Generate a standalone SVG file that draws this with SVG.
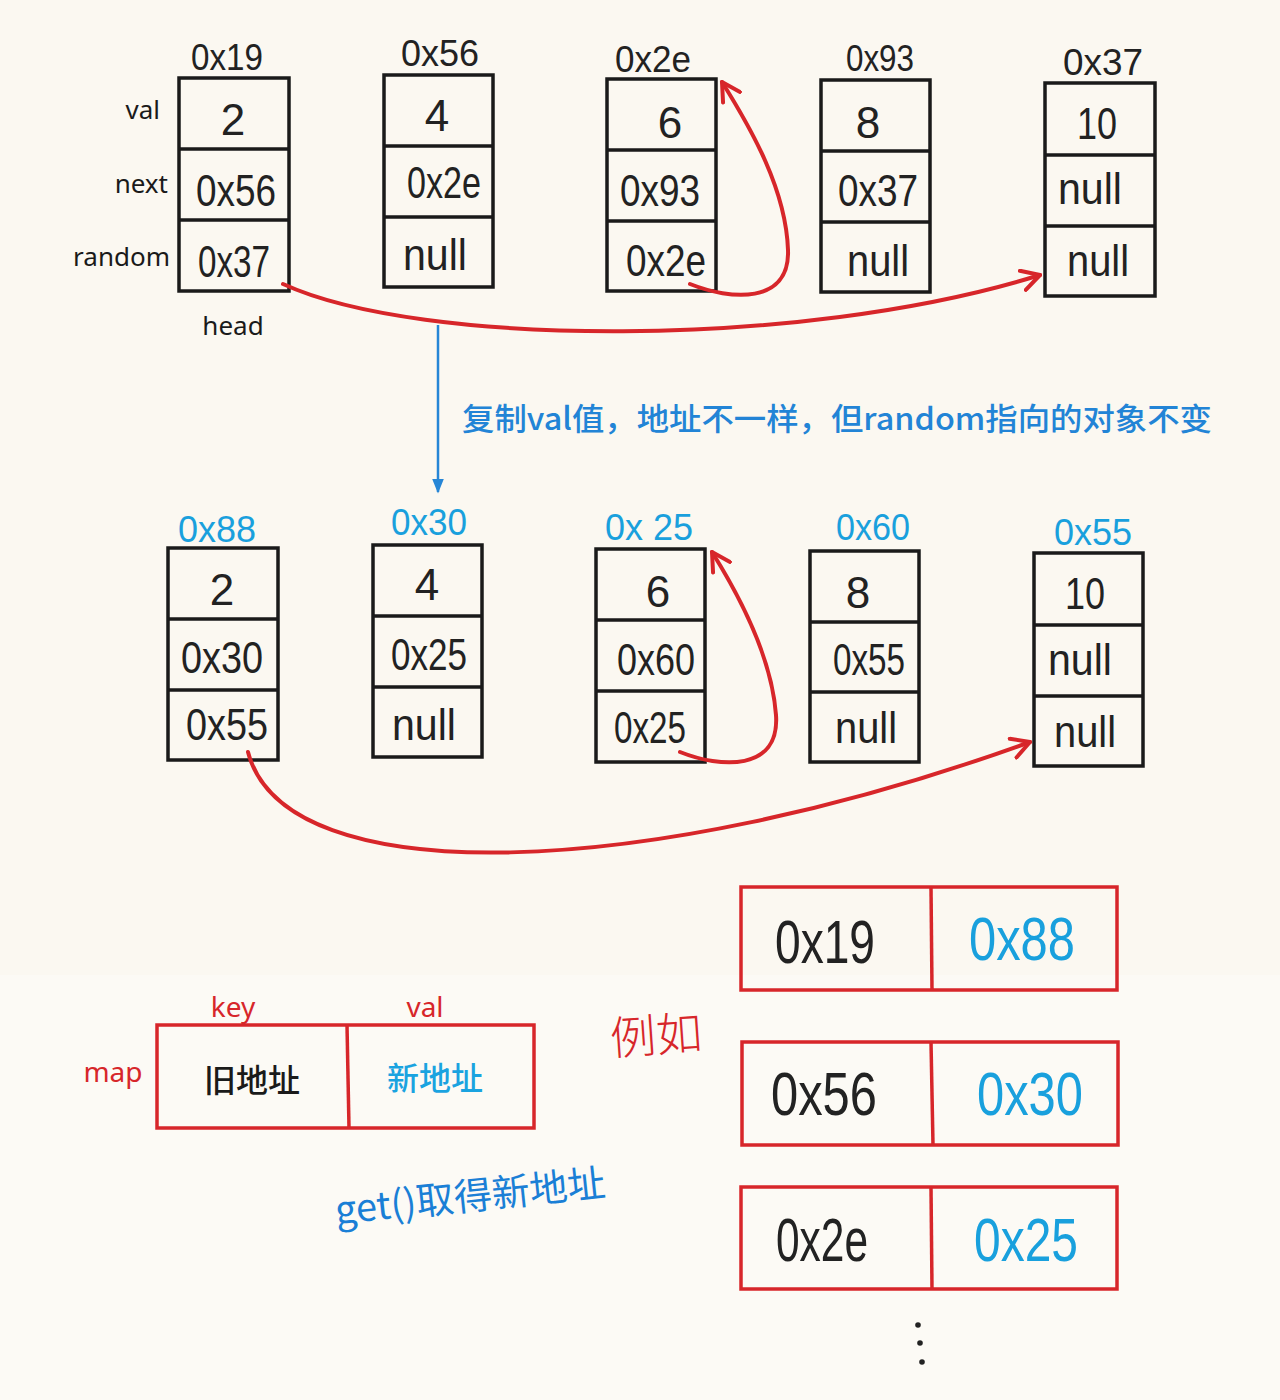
<svg xmlns="http://www.w3.org/2000/svg" width="1280" height="1400" viewBox="0 0 1280 1400">
<defs>
<style>
.box{fill:none;stroke:#1a1a1a;stroke-width:3.5}
.div{stroke:#1a1a1a;stroke-width:3.5}
.hw{font-family:"Liberation Sans Narrow","Liberation Sans",sans-serif;fill:#222;text-anchor:middle}
.val{font-size:44px}
.addr{font-size:36px}
.blueaddr{fill:#19a0dd}
.lbl{font-family:"Noto Sans","Liberation Sans",sans-serif;font-size:26px;fill:#1a1a1a}
.red{fill:none;stroke:#d7262a;stroke-width:4;stroke-linecap:round}
.mapbox{fill:none;stroke:#d7262a;stroke-width:3.5}
.redtxt{font-family:"Noto Sans","Liberation Sans",sans-serif;font-size:28px;fill:#d7262a}
.cjk{font-family:"Noto Sans CJK SC","Noto Sans",sans-serif}
</style>
<marker id="ra" viewBox="0 0 12 12" refX="10" refY="6" markerWidth="6" markerHeight="6" orient="auto" markerUnits="strokeWidth">
<path d="M1,1 L10,6 L1,11" fill="none" stroke="#d7262a" stroke-width="2" stroke-linecap="round" stroke-linejoin="round"/>
</marker>
<marker id="ba" viewBox="0 0 10 10" refX="9" refY="5" markerWidth="6" markerHeight="6" orient="auto" markerUnits="strokeWidth">
<path d="M0,1 L10,5 L0,9 Z" fill="#2686d6"/>
</marker>
</defs>
<rect x="0" y="0" width="1280" height="1400" fill="#fbf8f1"/>
<rect x="0" y="975" width="1280" height="425" fill="#fcfaf5"/>

<!-- row labels -->
<g id="labels">
<text class="lbl" x="160" y="119" text-anchor="end">val</text>
<text class="lbl" x="168" y="193" text-anchor="end">next</text>
<text class="lbl" x="170" y="266" text-anchor="end">random</text>
<text class="lbl" x="233" y="335" text-anchor="middle">head</text>
</g>

<!-- top row -->
<g id="n0x19">
<rect class="box" x="179" y="78" width="110" height="213"/>
<line class="div" x1="179" y1="149" x2="289" y2="149"/>
<line class="div" x1="179" y1="220" x2="289" y2="220"/>
<text class="hw addr" x="227" y="70" textLength="72" lengthAdjust="spacingAndGlyphs">0x19</text>
<text class="hw val" x="233" y="135">2</text>
<text class="hw val" x="236" y="206" textLength="80" lengthAdjust="spacingAndGlyphs">0x56</text>
<text class="hw val" x="234" y="277" textLength="72" lengthAdjust="spacingAndGlyphs">0x37</text>
</g>
<g id="n0x56">
<rect class="box" x="384" y="75" width="109" height="212"/>
<line class="div" x1="384" y1="146" x2="493" y2="146"/>
<line class="div" x1="384" y1="217" x2="493" y2="217"/>
<text class="hw addr" x="440" y="66" textLength="78" lengthAdjust="spacingAndGlyphs">0x56</text>
<text class="hw val" x="437" y="131">4</text>
<text class="hw val" x="444" y="198" textLength="74" lengthAdjust="spacingAndGlyphs">0x2e</text>
<text class="hw val" x="435" y="270" textLength="64" lengthAdjust="spacingAndGlyphs">null</text>
</g>
<g id="n0x2e">
<rect class="box" x="607" y="79" width="109" height="212"/>
<line class="div" x1="607" y1="150" x2="716" y2="150"/>
<line class="div" x1="607" y1="221" x2="716" y2="221"/>
<text class="hw addr" x="653" y="72" textLength="76" lengthAdjust="spacingAndGlyphs">0x2e</text>
<text class="hw val" x="670" y="138">6</text>
<text class="hw val" x="660" y="206" textLength="80" lengthAdjust="spacingAndGlyphs">0x93</text>
<text class="hw val" x="666" y="276" textLength="80" lengthAdjust="spacingAndGlyphs">0x2e</text>
</g>
<g id="n0x93">
<rect class="box" x="821" y="80" width="109" height="212"/>
<line class="div" x1="821" y1="151" x2="930" y2="151"/>
<line class="div" x1="821" y1="222" x2="930" y2="222"/>
<text class="hw addr" x="880" y="71" textLength="68" lengthAdjust="spacingAndGlyphs">0x93</text>
<text class="hw val" x="868" y="138">8</text>
<text class="hw val" x="878" y="206" textLength="80" lengthAdjust="spacingAndGlyphs">0x37</text>
<text class="hw val" x="878" y="276" textLength="62" lengthAdjust="spacingAndGlyphs">null</text>
</g>
<g id="n0x37">
<rect class="box" x="1045" y="83" width="110" height="213"/>
<line class="div" x1="1045" y1="155" x2="1155" y2="155"/>
<line class="div" x1="1045" y1="226" x2="1155" y2="226"/>
<text class="hw addr" x="1103" y="75" textLength="80" lengthAdjust="spacingAndGlyphs">0x37</text>
<text class="hw val" x="1097" y="139" textLength="40" lengthAdjust="spacingAndGlyphs">10</text>
<text class="hw val" x="1090" y="204" textLength="64" lengthAdjust="spacingAndGlyphs">null</text>
<text class="hw val" x="1098" y="276" textLength="62" lengthAdjust="spacingAndGlyphs">null</text>
</g>

<!-- bottom row -->
<g id="n0x88">
<rect class="box" x="168" y="548" width="110" height="212"/>
<line class="div" x1="168" y1="619" x2="278" y2="619"/>
<line class="div" x1="168" y1="690" x2="278" y2="690"/>
<text class="hw addr blueaddr" x="217" y="542" textLength="78" lengthAdjust="spacingAndGlyphs">0x88</text>
<text class="hw val" x="222" y="605">2</text>
<text class="hw val" x="222" y="673" textLength="82" lengthAdjust="spacingAndGlyphs">0x30</text>
<text class="hw val" x="227" y="740" textLength="82" lengthAdjust="spacingAndGlyphs">0x55</text>
</g>
<g id="n0x30">
<rect class="box" x="373" y="545" width="109" height="212"/>
<line class="div" x1="373" y1="616" x2="482" y2="616"/>
<line class="div" x1="373" y1="687" x2="482" y2="687"/>
<text class="hw addr blueaddr" x="429" y="535" textLength="76" lengthAdjust="spacingAndGlyphs">0x30</text>
<text class="hw val" x="427" y="600">4</text>
<text class="hw val" x="429" y="670" textLength="76" lengthAdjust="spacingAndGlyphs">0x25</text>
<text class="hw val" x="424" y="740" textLength="64" lengthAdjust="spacingAndGlyphs">null</text>
</g>
<g id="n0x25">
<rect class="box" x="596" y="549" width="109" height="213"/>
<line class="div" x1="596" y1="620" x2="705" y2="620"/>
<line class="div" x1="596" y1="691" x2="705" y2="691"/>
<text class="hw addr blueaddr" x="649" y="540" textLength="88" lengthAdjust="spacingAndGlyphs">0x 25</text>
<text class="hw val" x="658" y="607">6</text>
<text class="hw val" x="656" y="675" textLength="78" lengthAdjust="spacingAndGlyphs">0x60</text>
<text class="hw val" x="650" y="743" textLength="72" lengthAdjust="spacingAndGlyphs">0x25</text>
</g>
<g id="n0x60">
<rect class="box" x="810" y="551" width="109" height="211"/>
<line class="div" x1="810" y1="622" x2="919" y2="622"/>
<line class="div" x1="810" y1="692" x2="919" y2="692"/>
<text class="hw addr blueaddr" x="873" y="540" textLength="74" lengthAdjust="spacingAndGlyphs">0x60</text>
<text class="hw val" x="858" y="608">8</text>
<text class="hw val" x="869" y="675" textLength="72" lengthAdjust="spacingAndGlyphs">0x55</text>
<text class="hw val" x="866" y="743" textLength="62" lengthAdjust="spacingAndGlyphs">null</text>
</g>
<g id="n0x55">
<rect class="box" x="1034" y="553" width="109" height="213"/>
<line class="div" x1="1034" y1="625" x2="1143" y2="625"/>
<line class="div" x1="1034" y1="696" x2="1143" y2="696"/>
<text class="hw addr blueaddr" x="1093" y="545" textLength="78" lengthAdjust="spacingAndGlyphs">0x55</text>
<text class="hw val" x="1085" y="609" textLength="40" lengthAdjust="spacingAndGlyphs">10</text>
<text class="hw val" x="1080" y="675" textLength="64" lengthAdjust="spacingAndGlyphs">null</text>
<text class="hw val" x="1085" y="747" textLength="62" lengthAdjust="spacingAndGlyphs">null</text>
</g>

<!-- connectors -->
<g id="connectors">
<path class="red" d="M283,284 C420,347 800,350 1040,275" marker-end="url(#ra)"/>
<path class="red" d="M690,284 C730,300 790,305 788,250 C786,190 752,130 722,82" marker-end="url(#ra)"/>
<path class="red" d="M248,752 C285,895 650,880 1030,742" marker-end="url(#ra)"/>
<path class="red" d="M680,752 C720,768 780,772 776,715 C772,660 742,600 712,552" marker-end="url(#ra)"/>
<line x1="438" y1="325" x2="438" y2="492" stroke="#2686d6" stroke-width="2.5" marker-end="url(#ba)"/>
</g>

<text class="cjk" x="462" y="430" font-size="31" font-weight="500" fill="#2284d6" textLength="750" lengthAdjust="spacingAndGlyphs">复制val值，地址不一样，但random指向的对象不变</text>

<!-- map -->
<g id="map">
<rect class="mapbox" x="157" y="1025" width="377" height="103"/>
<line x1="347" y1="1025" x2="349" y2="1128" stroke="#d7262a" stroke-width="3.5"/>
<text class="redtxt" x="233" y="1017" text-anchor="middle">key</text>
<text class="redtxt" x="425" y="1017" text-anchor="middle">val</text>
<text class="redtxt" x="113" y="1082" text-anchor="middle">map</text>
<text class="cjk" x="252" y="1092" font-size="32" font-weight="500" fill="#1a1a1a" text-anchor="middle">旧地址</text>
<text class="cjk" x="435" y="1090" font-size="32" font-weight="500" fill="#1aa3e0" text-anchor="middle">新地址</text>
</g>
<text class="cjk" x="656" y="1052" font-size="46" font-weight="300" fill="#d7262a" text-anchor="middle" transform="rotate(-4 656 1035)">例如</text>
<text class="cjk" x="470" y="1210" font-size="38" font-weight="400" fill="#1a7fd6" text-anchor="middle" transform="rotate(-6 470 1195)">get()取得新地址</text>

<!-- example table -->
<g id="ex1">
<rect class="mapbox" x="741" y="887" width="376" height="103"/>
<line x1="931" y1="887" x2="932" y2="990" stroke="#d7262a" stroke-width="3.5"/>
<text class="hw" x="825" y="963" font-size="62" textLength="100" lengthAdjust="spacingAndGlyphs">0x19</text>
<text class="hw blueaddr" x="1022" y="960" font-size="62" textLength="106" lengthAdjust="spacingAndGlyphs">0x88</text>
</g>
<g id="ex2">
<rect class="mapbox" x="742" y="1042" width="376" height="103"/>
<line x1="931" y1="1042" x2="933" y2="1145" stroke="#d7262a" stroke-width="3.5"/>
<text class="hw" x="824" y="1115" font-size="62" textLength="106" lengthAdjust="spacingAndGlyphs">0x56</text>
<text class="hw blueaddr" x="1030" y="1115" font-size="62" textLength="106" lengthAdjust="spacingAndGlyphs">0x30</text>
</g>
<g id="ex3">
<rect class="mapbox" x="741" y="1187" width="376" height="102"/>
<line x1="931" y1="1187" x2="932" y2="1289" stroke="#d7262a" stroke-width="3.5"/>
<text class="hw" x="822" y="1261" font-size="62" textLength="92" lengthAdjust="spacingAndGlyphs">0x2e</text>
<text class="hw blueaddr" x="1026" y="1261" font-size="62" textLength="104" lengthAdjust="spacingAndGlyphs">0x25</text>
</g>
<g id="dots" fill="#222">
<circle cx="918" cy="1325" r="2.8"/>
<circle cx="920" cy="1343" r="2.8"/>
<circle cx="922" cy="1362" r="2.8"/>
</g>
</svg>
